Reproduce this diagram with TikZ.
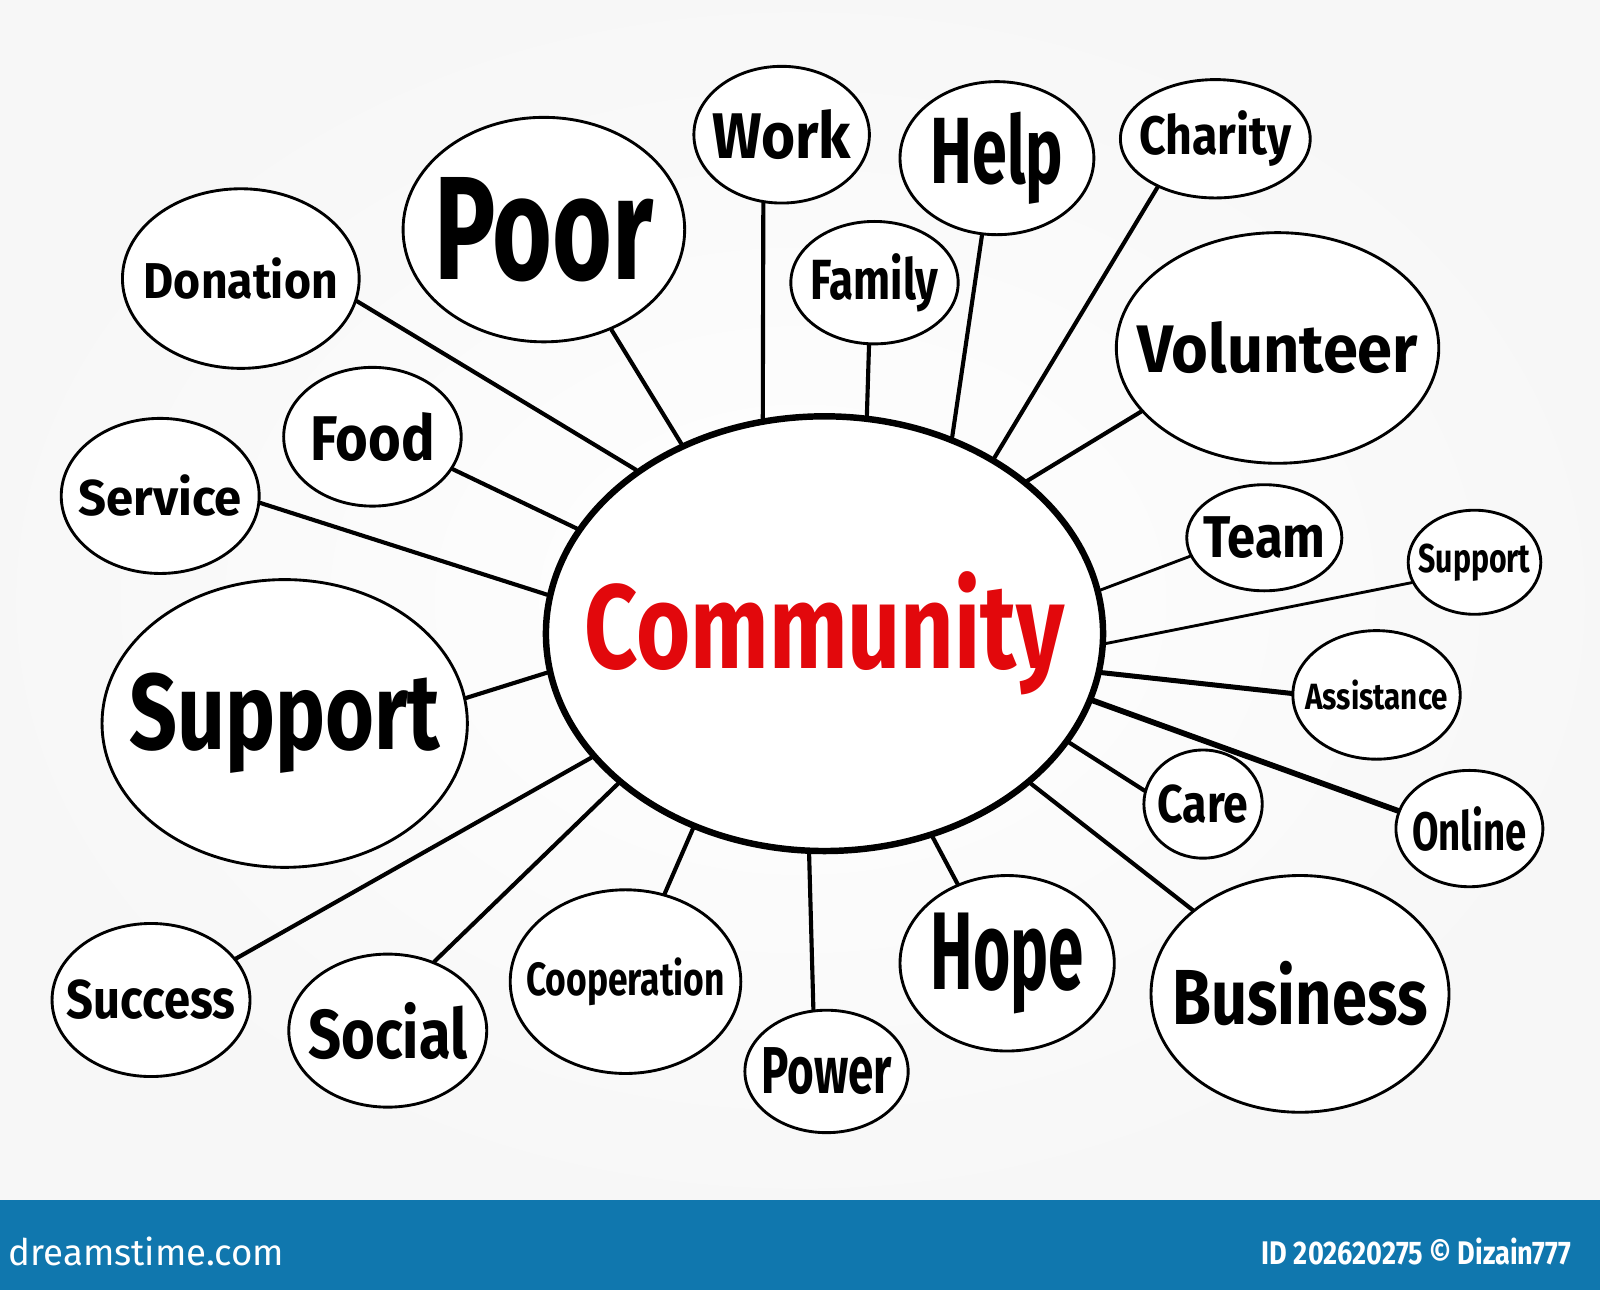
\documentclass[tikz,border=0pt]{standalone}
\usepackage{fontspec}
\usepackage{graphicx}
\setmainfont{Fira Sans}
\usetikzlibrary{shapes.geometric}

\newlength\ux \setlength\ux{0.02cm}
% word squeezed into a box of w x h (picture units)
\newcommand\wrd[3]{\resizebox{#1\ux}{#2\ux}{\bfseries #3}}
\definecolor{bannerblue}{RGB}{16,119,174}
\definecolor{commred}{RGB}{226,8,12}

\tikzset{
  bub/.style={ellipse, draw=black, line width=1.6pt, inner sep=0pt, fill=white},
  link/.style={line width=2.3pt, black, line cap=round},
}

\begin{document}
\begin{tikzpicture}[x=0.02cm, y=-0.02cm]
  \useasboundingbox (0,0) rectangle (1568,1264);
  \shade[inner color=white, outer color=black!3] (0,0) rectangle (1568,1176);

  % centre
  \node[bub, line width=3.6pt, minimum width=546\ux, minimum height=426\ux,
        label=center:{\color{commred}\wrd{470}{95}{Community}}] (comm) at (808,621) {};

  % top ring
  \node[bub, minimum width=276\ux, minimum height=220\ux, label=center:{\wrd{215}{100}{Poor}}] (poor) at (533,225) {};
  \node[bub, minimum width=172\ux, minimum height=134\ux, label=center:{\wrd{136}{48}{Work}}] (work) at (766,132) {};
  \node[bub, minimum width=190\ux, minimum height=150\ux, label=center:{\wrd{130}{70}{Help}}] (help) at (977,155) {};
  \node[bub, minimum width=186\ux, minimum height=116\ux, label=center:{\wrd{149}{43}{Charity}}] (charity) at (1191,136) {};
  \node[bub, minimum width=164\ux, minimum height=120\ux, label=center:{\wrd{125}{45}{Family}}] (family) at (857,277) {};
  \node[bub, minimum width=232\ux, minimum height=176\ux, label=center:{\wrd{190}{40}{Donation}}] (donation) at (236,273) {};
  \node[bub, minimum width=316\ux, minimum height=226\ux, label=center:{\wrd{275}{50}{Volunteer}}] (volunteer) at (1252,341) {};

  % left side
  \node[bub, minimum width=174\ux, minimum height=136\ux, label=center:{\wrd{122}{47}{Food}}] (food) at (365,428) {};
  \node[bub, minimum width=194\ux, minimum height=152\ux, label=center:{\wrd{160}{40}{Service}}] (service) at (157,486) {};
  \node[bub, minimum width=358\ux, minimum height=282\ux, label=center:{\wrd{305}{75}{Support}}] (support) at (279,709) {};

  % right side
  \node[bub, minimum width=152\ux, minimum height=104\ux, label=center:{\wrd{120}{40}{Team}}] (team) at (1239,527) {};
  \node[bub, minimum width=130\ux, minimum height=102\ux, label=center:{\wrd{110}{28}{Support}}] (supsmall) at (1445,551) {};
  \node[bub, minimum width=164\ux, minimum height=126\ux, label=center:{\wrd{140}{29}{Assistance}}] (assist) at (1349,681) {};
  \node[bub, minimum width=116\ux, minimum height=106\ux, label=center:{\wrd{89}{37}{Care}}] (care) at (1179,788) {};
  \node[bub, minimum width=144\ux, minimum height=114\ux, label=center:{\wrd{112}{43}{Online}}] (online) at (1440,812) {};

  % bottom ring
  \node[bub, minimum width=194\ux, minimum height=150\ux, label=center:{\wrd{165}{38}{Success}}] (success) at (148,980) {};
  \node[bub, minimum width=194\ux, minimum height=150\ux, label=center:{\wrd{156}{55}{Social}}] (social) at (380,1010) {};
  \node[bub, minimum width=226\ux, minimum height=180\ux, label=center:{\wrd{195}{37}{Cooperation}}] (coop) at (613,962) {};
  \node[bub, minimum width=160\ux, minimum height=120\ux, label=center:{\wrd{128}{45}{Power}}] (power) at (810,1050) {};
  \node[bub, minimum width=210\ux, minimum height=172\ux, label=center:{\wrd{150}{75}{Hope}}] (hope) at (987,944) {};
  \node[bub, minimum width=292\ux, minimum height=232\ux, label=center:{\wrd{250}{62}{Business}}] (business) at (1274,974) {};

  % spokes
  \draw[link] (donation.-11) -- (comm.139);
  \draw[link] (poor.-56) -- (comm.127);
  \draw[link] (work.-105) -- (comm.106);
  \draw[link] (family.-95) -- (comm.79);
  \draw[link] (help.-101) -- (comm.57);
  \draw[link] (charity.-140) -- (comm.46);
  \draw[link] (volunteer.-155) -- (comm.37);
  \draw[link] (food.-22) -- (comm.157);
  \draw[link] (service.-4) -- (comm.172);
  \draw[link] (support.8) -- (comm.-172);
  \draw[link, line width=1.6pt] (team.-166) -- (comm.9);
  \draw[link, line width=1.6pt] (supsmall.-162) -- (comm.-2);
  \draw[link, line width=2.8pt] (assist.179) -- (comm.-8);
  \draw[link, line width=3.2pt] (online.166) -- (comm.-14);
  \draw[link] (care.167) -- (comm.-24);
  \draw[link] (business.142) -- (comm.-36);
  \draw[link] (hope.122) -- (comm.-62);
  \draw[link] (power.102) -- (comm.-94);
  \draw[link] (coop.66) -- (comm.-124);
  \draw[link] (social.56) -- (comm.-144);
  \draw[link] (success.26) -- (comm.-152);

  % banner
  \fill[bannerblue] (0,1176) rectangle (1568,1264);
  \node[anchor=west, inner sep=0pt, text=white] (brand) at (8,1226)
    {\resizebox{270\ux}{28\ux}{dreamstime.com}};
  \node[anchor=east, inner sep=0pt, text=white] (stockid) at (1540,1226)
    {\resizebox{303\ux}{26\ux}{\bfseries ID 202620275 © Dizain777}};
\end{tikzpicture}
\end{document}
